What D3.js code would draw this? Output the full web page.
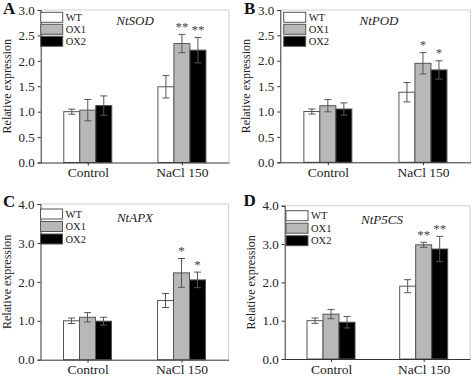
<!DOCTYPE html>
<html><head><meta charset="utf-8">
<script src="https://cdn.jsdelivr.net/npm/d3@7"></script>
<style>body{margin:0;background:#fff}svg{display:block}text{font-family:"Liberation Serif","Times New Roman",serif}</style>
</head><body>
<svg id="chart" width="474" height="378"></svg>
<script>
// ---- data ----
const categories = ["Control", "NaCl 150"];
const series = ["WT", "OX1", "OX2"];
const genes = ["NtSOD", "NtPOD", "NtAPX", "NtP5CS"];
const panelLetters = ["A", "B", "C", "D"];
// means ordered: Control(WT,OX1,OX2), NaCl 150(WT,OX1,OX2)
const sodMean = [1.00, 1.03, 1.12, 1.49, 2.34, 2.21];
const sodErr  = [0.05, 0.21, 0.19, 0.22, 0.18, 0.25];
const sodSig  = ["", "", "", "", "**", "**"];
const podMean = [1.00, 1.115, 1.05, 1.38, 1.95, 1.82];
const podErr  = [0.05, 0.12, 0.12, 0.19, 0.21, 0.18];
const podSig  = ["", "", "", "", "*", "*"];
const apxMean = [1.00, 1.09, 0.99, 1.52, 2.23, 2.05];
const apxErr  = [0.07, 0.12, 0.10, 0.18, 0.37, 0.20];
const apxSig  = ["", "", "", "", "*", "*"];
const p5csMean = [1.00, 1.17, 0.96, 1.90, 2.98, 2.87];
const p5csErr  = [0.07, 0.12, 0.15, 0.17, 0.065, 0.33];
const p5csSig  = ["", "", "", "", "**", "**"];
const ticksAB = [0, 0.5, 1.0, 1.5, 2.0, 2.5, 3.0];
const ticksCD = [0, 1.0, 2.0, 3.0, 4.0];

const colors = {WT: "#ffffff", OX1: "#b8b8b8", OX2: "#000000"};

const panels = [
  {mean: sodMean, err: sodErr, sig: sodSig, ticks: ticksAB, ymax: 3,
   left: 40.7, right: 229, top: 10, bottom: 162.5, legX: 0, legY: 2.3, legStep: 12, geneX: 135, geneY: 25, letterX: 3, letterY: 14},
  {mean: podMean, err: podErr, sig: podSig, ticks: ticksAB, ymax: 3,
   left: 280.3, right: 470.5, top: 10, bottom: 162.3, legX: 3.4, legY: 2.3, legStep: 12, geneX: 379, geneY: 25, letterX: 244, letterY: 14},
  {mean: apxMean, err: apxErr, sig: apxSig, ticks: ticksCD, ymax: 4,
   left: 40.5, right: 228.5, top: 204, bottom: 359.7, legX: 0, legY: 5, legStep: 12.5, geneX: 135, geneY: 222, letterX: 3, letterY: 207},
  {mean: p5csMean, err: p5csErr, sig: p5csSig, ticks: ticksCD, ymax: 4,
   left: 284.7, right: 470, top: 205.7, bottom: 359, legX: 1.3, legY: 5, legStep: 12.5, geneX: 382, geneY: 224, letterX: 243.5, letterY: 206}
];

const svg = d3.select("#chart");

panels.forEach((p, pi) => {
  const g = svg.append("g");
  const y = d3.scaleLinear().domain([0, p.ymax]).range([p.bottom, p.top]);
  const x = d3.scalePoint().domain(categories).range([p.left, p.right]).padding(0.5);
  const xs = d3.scaleBand().domain(series).range([-24, 24]).padding(0);

  // frame top/right
  g.append("path")
    .attr("d", `M${p.left},${p.top}H${p.right}V${p.bottom}`)
    .attr("fill", "none").attr("stroke", "#cfcfcf").attr("stroke-width", 1);

  const rows = [];
  categories.forEach((c, ci) => series.forEach((s, si) => {
    const k = ci * 3 + si;
    rows.push({c, s, v: p.mean[k], e: p.err[k], sig: p.sig[k]});
  }));

  // bars
  g.selectAll("rect.bar").data(rows).join("rect")
    .attr("x", d => x(d.c) + xs(d.s))
    .attr("y", d => y(d.v))
    .attr("width", xs.bandwidth())
    .attr("height", d => y(0) - y(d.v))
    .attr("fill", d => colors[d.s])
    .attr("stroke", "#555").attr("stroke-width", 1);

  // error bars
  const eg = g.selectAll("g.err").data(rows).join("g").attr("stroke", "#555").attr("stroke-width", 1);
  eg.append("line")
    .attr("x1", d => x(d.c) + xs(d.s) + xs.bandwidth() / 2)
    .attr("x2", d => x(d.c) + xs(d.s) + xs.bandwidth() / 2)
    .attr("y1", d => y(d.v + d.e)).attr("y2", d => y(d.v - d.e));
  [1, -1].forEach(sg => {
    eg.append("line")
      .attr("x1", d => x(d.c) + xs(d.s) + xs.bandwidth() / 2 - 3.5)
      .attr("x2", d => x(d.c) + xs(d.s) + xs.bandwidth() / 2 + 3.5)
      .attr("y1", d => y(d.v + sg * d.e)).attr("y2", d => y(d.v + sg * d.e));
  });

  // significance stars
  g.selectAll("text.sig").data(rows.filter(d => d.sig)).join("text")
    .attr("x", d => x(d.c) + xs(d.s) + xs.bandwidth() / 2)
    .attr("y", d => y(d.v + d.e) - 3.5)
    .attr("text-anchor", "middle").attr("font-size", 13).attr("fill", "#444")
    .text(d => d.sig);

  // y axis
  const ya = g.append("g").attr("transform", `translate(${p.left},0)`)
    .call(d3.axisLeft(y).tickValues(p.ticks).tickFormat(d3.format(".1f")).tickSize(3).tickPadding(3));
  ya.select(".domain").attr("stroke", "#333");
  ya.selectAll(".tick line").attr("stroke", "#333");
  ya.selectAll("text").attr("font-size", 13).attr("fill", "#222")
    .style("font-family", '"Liberation Serif", serif');

  // x axis
  const xa = g.append("g").attr("transform", `translate(0,${p.bottom})`)
    .call(d3.axisBottom(x).tickSize(3).tickPadding(2).tickSizeOuter(0));
  xa.select(".domain").attr("stroke", "#333");
  xa.selectAll(".tick line").attr("stroke", "#333");
  xa.selectAll("text").attr("font-size", 13.5).attr("fill", "#222")
    .style("font-family", '"Liberation Serif", serif');

  // y label
  g.append("text")
    .attr("transform", `translate(${p.left - 30},${(p.top + p.bottom) / 2}) rotate(-90)`)
    .attr("text-anchor", "middle").attr("font-size", 12).attr("fill", "#222")
    .text("Relative expression");

  // gene name
  g.append("text").attr("x", p.geneX).attr("y", p.geneY)
    .attr("text-anchor", "middle").attr("font-size", 13).attr("font-style", "italic").attr("fill", "#222")
    .text(genes[pi]);

  // panel letter
  g.append("text").attr("x", p.letterX).attr("y", p.letterY)
    .attr("font-size", 17).attr("font-weight", "bold").attr("fill", "#111")
    .text(panelLetters[pi]);

  // legend
  const lg = g.append("g").attr("transform", `translate(${p.left + p.legX},${p.top + p.legY})`);
  series.forEach((s, si) => {
    lg.append("rect").attr("x", 0).attr("y", si * p.legStep).attr("width", 22).attr("height", 10)
      .attr("fill", colors[s]).attr("stroke", "#555").attr("stroke-width", 1);
    lg.append("text").attr("x", 25).attr("y", si * p.legStep + 8.5)
      .attr("font-size", 10.5).attr("fill", "#222").text(s);
  });
});
</script>
</body></html>
